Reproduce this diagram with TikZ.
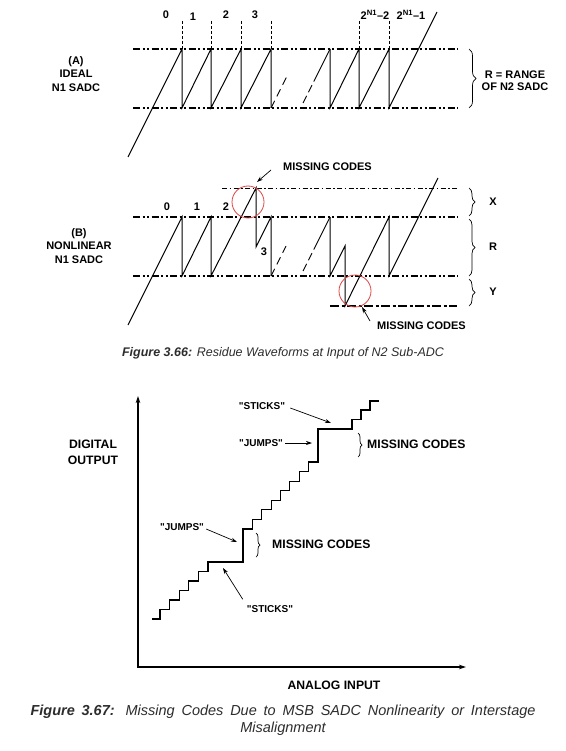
\documentclass[tikz,border=0pt]{standalone}
\usepackage{fontspec}
\setmainfont{Liberation Sans}
\usetikzlibrary{arrows.meta,decorations.pathreplacing}
\definecolor{circred}{RGB}{225,70,70}
\definecolor{capgray}{RGB}{45,45,45}
\newcommand{\qq}[1]{\textquotedbl#1\textquotedbl}
\begin{document}
\begin{tikzpicture}[x=1pt,y=-1pt,
  wave/.style={line width=1pt},
  refA/.style={line width=1.6pt, dash pattern=on 7pt off 2.5pt on 2pt off 2.5pt on 2pt off 2.5pt},
  refX/.style={line width=0.9pt, dash pattern=on 5pt off 2.5pt on 1.5pt off 2.5pt},
  refY/.style={line width=1.6pt, dash pattern=on 9pt off 2.5pt on 3pt off 2.5pt},
  tickline/.style={line width=0.8pt, dash pattern=on 3pt off 2pt},
  dwave/.style={line width=0.9pt, dash pattern=on 8pt off 5pt},
  dwaveb/.style={line width=0.9pt, dash pattern=on 8pt off 4pt on 8pt off 4pt on 60pt off 1pt},
  circ/.style={draw=circred, line width=0.8pt},
  lab/.style={font=\bfseries\fontsize{11}{13.5}\selectfont, inner sep=1pt, align=center},
  labbig/.style={font=\bfseries\fontsize{12.2}{16}\selectfont, inner sep=1pt, align=center},
  labq/.style={font=\bfseries\fontsize{10}{12}\selectfont, inner sep=2pt, align=center},
  capt/.style={font=\itshape\fontsize{12.5}{17}\selectfont, text=capgray, inner sep=0pt, align=center},
  bracedec/.style={decorate, decoration={brace, amplitude=#1}, line width=0.7pt},
  arr/.style={line width=0.7pt, -{Stealth[length=6pt,width=4pt]}},
  axis/.style={line width=1.1pt},
  stair/.style={line width=1.1pt},
]
\useasboundingbox (0,0) rectangle (565,751);
\fill[white] (0,0) rectangle (565,751);

% ================= Panel A =================
\draw[refA] (133,49) -- (458,49);
\draw[refA] (133,108) -- (458,108);
\foreach \x in {182,211,241,271,359,389} \draw[tickline] (\x,21) -- (\x,49);
\draw[wave] (128,157) -- (182,49) -- (182,108) -- (211,49) -- (211,108)
  -- (241,49) -- (241,108) -- (271,49) -- (271,108);
\draw[dwave] (271,108) -- (287,76);
\draw[dwaveb] (303,103) -- (330,49);
\draw[wave] (330,49) -- (330,108) -- (359,49) -- (359,108) -- (389,49) -- (389,108) -- (437,12);

\node[lab] (a0) at (166,15) {0};
\node[lab] (a1) at (193,17) {1};
\node[lab] (a2) at (226,15) {2};
\node[lab] (a3) at (255,15) {3};
\node[lab] (an2) at (375,15) {2\textsuperscript{N1}–2};
\node[lab] (an1) at (411,15) {2\textsuperscript{N1}–1};
\node[lab] (labA) at (76,74) {(A)\\IDEAL\\N1 SADC};
\draw[bracedec=7pt] (469,49) -- (469,108);
\node[lab, font=\bfseries\fontsize{11}{12}\selectfont] (rangeA) at (515,81) {R = RANGE\\OF N2 SADC};

% ================= Panel B =================
\draw[refX] (222,188) -- (458,188);
\draw[refA] (133,217) -- (458,217);
\draw[refA] (133,276) -- (458,276);
\draw[refY] (330,306) -- (457,306);
\draw[wave] (128,325) -- (182,217) -- (182,276) -- (211,217) -- (211,276)
  -- (256,188) -- (256,247) -- (271,217) -- (271,276);
\draw[dwave] (271,276) -- (286,246);
\draw[dwaveb] (303,271) -- (330,217);
\draw[wave] (330,217) -- (330,276) -- (345,246) -- (345,306) -- (389,217)
  -- (389,276) -- (438,178);
\draw[circ] (248,202) circle[radius=16];
\draw[circ] (355,291) circle[radius=16];

\node[lab] (b0) at (167,207) {0};
\node[lab] (b1) at (197,207) {1};
\node[lab] (b2) at (226,207) {2};
\node[lab] (b3) at (264,252) {3};
\node[lab] (labB) at (79,246) {(B)\\NONLINEAR\\N1 SADC};

\node[lab, anchor=west] (mc1) at (282,167) {MISSING CODES};
\coordinate (mc1tip) at (257,182);
\draw[arr] ([xshift=-11pt,yshift=-3pt]mc1.west) -- (mc1tip);
\node[lab, anchor=west] (mc2) at (376,326) {MISSING CODES};
\coordinate (mc2tip) at (362,307);
\draw[arr] ([xshift=-6pt,yshift=5pt]mc2.west) -- (mc2tip);

\draw[bracedec=6pt] (469,188) -- (469,216);
\draw[bracedec=6pt] (469,219) -- (469,276);
\draw[bracedec=6pt] (469,279) -- (469,306);
\node[lab] (bx) at (493,202) {X};
\node[lab] (br) at (493,247) {R};
\node[lab] (by) at (493,292) {Y};

\node[capt] (cap1) at (283,353) {\textbf{Figure 3.66:} Residue Waveforms at Input of N2 Sub-ADC};

% ================= Bottom chart =================
\coordinate (orig) at (138,667);
\coordinate (ytop) at (138,396);
\coordinate (xend) at (466,667);
\draw[axis, {Stealth[length=7pt,width=4.5pt]}-{Stealth[length=7pt,width=4.5pt]}] (ytop) -- (orig) -- (xend);

\draw[stair] (152,619) -- (160,619)
  -- (160,609.5) -- (169.6,609.5) -- (169.6,600) -- (179.2,600)
  -- (179.2,590.5) -- (188.8,590.5) -- (188.8,581) -- (198.4,581)
  -- (198.4,571.5) -- (208,571.5) -- (208,562) -- (243,562)
  -- (243,529) -- (252.4,529) -- (252.4,519.4) -- (261.75,519.4)
  -- (261.75,509.9) -- (271.1,509.9) -- (271.1,500.3) -- (280.5,500.3)
  -- (280.5,490.7) -- (289.9,490.7) -- (289.9,481.1) -- (299.25,481.1)
  -- (299.25,471.6) -- (308.6,471.6) -- (308.6,462) -- (318,462)
  -- (318,429) -- (352,429) -- (352,419.7) -- (361,419.7)
  -- (361,410) -- (370,410) -- (370,401) -- (379,401);

\node[labbig] (dout) at (93,452) {DIGITAL\\OUTPUT};
\node[labbig] (ain) at (334,685) {ANALOG INPUT};

\node[labq] (stk1) at (262,406) {\qq{STICKS}};
\coordinate (stk1tip) at (331,423);
\draw[arr] ([xshift=3pt,yshift=-2pt]stk1.east) -- (stk1tip);
\node[labq] (jmp1) at (261,443) {\qq{JUMPS}};
\coordinate (jmp1tip) at (312,443);
\draw[arr] (jmp1.east) -- (jmp1tip);
\node[labq] (jmp2) at (182,527) {\qq{JUMPS}};
\coordinate (jmp2tip) at (237,542);
\draw[arr] ([yshift=-2pt]jmp2.east) -- (jmp2tip);
\node[labq] (stk2) at (270,609) {\qq{STICKS}};
\coordinate (stk2tip) at (223,568);
\draw[arr] ([xshift=-2pt,yshift=4pt]stk2.north west) -- (stk2tip);

\draw[bracedec=4pt] (358,433) -- (358,457);
\node[labbig, anchor=west] (mcb1) at (366,444) {MISSING CODES};
\draw[bracedec=4pt] (256,533) -- (256,557);
\node[labbig, anchor=west] (mcb2) at (271,544) {MISSING CODES};

\node[capt, font=\itshape\fontsize{14.5}{17.5}\selectfont] (cap2) at (283,720) {\makebox[505pt][s]{\textbf{Figure 3.67:} Missing Codes Due to MSB SADC Nonlinearity or Interstage}\\Misalignment};
\end{tikzpicture}
\end{document}
